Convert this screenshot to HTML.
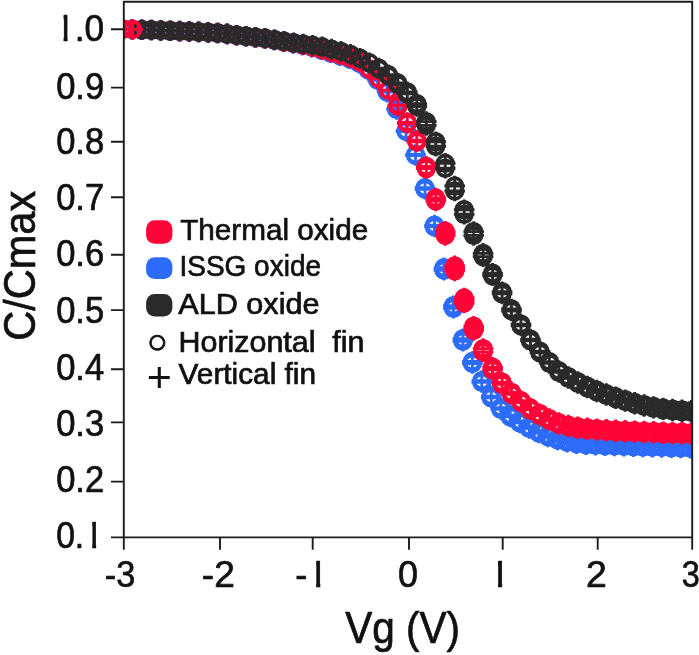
<!DOCTYPE html>
<html lang="en"><head><meta charset="utf-8"><title>C/Cmax vs Vg</title>
<style>
html,body{margin:0;padding:0;background:#fff}
body{width:699px;height:655px;overflow:hidden}
svg{display:block}
text{font-family:"Liberation Sans",sans-serif;fill:#111;stroke:#111;stroke-width:0.7px;stroke-linejoin:round}
.ax{stroke:#1c1c1c;stroke-width:1.9;fill:none}
</style></head><body>
<svg width="699" height="655" viewBox="0 0 699 655">
<defs>
<clipPath id="cp"><rect x="123.8" y="1.8" width="568.4" height="535.6"/></clipPath>
</defs>
<rect width="699" height="655" fill="#fff"/>

<g clip-path="url(#cp)">
<path d="M114.1 29.1a7.85 7.85 0 1 0 15.7 0a7.85 7.85 0 1 0 -15.7 0M123.5 29.4a7.85 7.85 0 1 0 15.7 0a7.85 7.85 0 1 0 -15.7 0M133.0 29.7a7.85 7.85 0 1 0 15.7 0a7.85 7.85 0 1 0 -15.7 0M142.5 30.0a7.85 7.85 0 1 0 15.7 0a7.85 7.85 0 1 0 -15.7 0M151.9 30.4a7.85 7.85 0 1 0 15.7 0a7.85 7.85 0 1 0 -15.7 0M161.4 30.8a7.85 7.85 0 1 0 15.7 0a7.85 7.85 0 1 0 -15.7 0M170.9 31.1a7.85 7.85 0 1 0 15.7 0a7.85 7.85 0 1 0 -15.7 0M180.4 31.5a7.85 7.85 0 1 0 15.7 0a7.85 7.85 0 1 0 -15.7 0M189.8 31.9a7.85 7.85 0 1 0 15.7 0a7.85 7.85 0 1 0 -15.7 0M199.3 32.4a7.85 7.85 0 1 0 15.7 0a7.85 7.85 0 1 0 -15.7 0M208.8 33.0a7.85 7.85 0 1 0 15.7 0a7.85 7.85 0 1 0 -15.7 0M218.2 33.9a7.85 7.85 0 1 0 15.7 0a7.85 7.85 0 1 0 -15.7 0M227.7 35.2a7.85 7.85 0 1 0 15.7 0a7.85 7.85 0 1 0 -15.7 0M237.2 36.3a7.85 7.85 0 1 0 15.7 0a7.85 7.85 0 1 0 -15.7 0M246.7 37.4a7.85 7.85 0 1 0 15.7 0a7.85 7.85 0 1 0 -15.7 0M256.1 38.5a7.85 7.85 0 1 0 15.7 0a7.85 7.85 0 1 0 -15.7 0M265.6 40.0a7.85 7.85 0 1 0 15.7 0a7.85 7.85 0 1 0 -15.7 0M275.1 41.6a7.85 7.85 0 1 0 15.7 0a7.85 7.85 0 1 0 -15.7 0M284.5 43.2a7.85 7.85 0 1 0 15.7 0a7.85 7.85 0 1 0 -15.7 0M294.0 45.0a7.85 7.85 0 1 0 15.7 0a7.85 7.85 0 1 0 -15.7 0M303.5 47.0a7.85 7.85 0 1 0 15.7 0a7.85 7.85 0 1 0 -15.7 0M313.0 49.7a7.85 7.85 0 1 0 15.7 0a7.85 7.85 0 1 0 -15.7 0M322.4 52.8a7.85 7.85 0 1 0 15.7 0a7.85 7.85 0 1 0 -15.7 0M331.9 55.6a7.85 7.85 0 1 0 15.7 0a7.85 7.85 0 1 0 -15.7 0M341.4 58.7a7.85 7.85 0 1 0 15.7 0a7.85 7.85 0 1 0 -15.7 0M350.8 63.0a7.85 7.85 0 1 0 15.7 0a7.85 7.85 0 1 0 -15.7 0M360.3 70.0a7.85 7.85 0 1 0 15.7 0a7.85 7.85 0 1 0 -15.7 0M369.8 80.2a7.85 7.85 0 1 0 15.7 0a7.85 7.85 0 1 0 -15.7 0M379.3 92.1a7.85 7.85 0 1 0 15.7 0a7.85 7.85 0 1 0 -15.7 0M388.7 108.6a7.85 7.85 0 1 0 15.7 0a7.85 7.85 0 1 0 -15.7 0M388.7 109.4a7.85 7.85 0 1 0 15.7 0a7.85 7.85 0 1 0 -15.7 0M398.2 130.5a7.85 7.85 0 1 0 15.7 0a7.85 7.85 0 1 0 -15.7 0M398.2 131.5a7.85 7.85 0 1 0 15.7 0a7.85 7.85 0 1 0 -15.7 0M407.7 154.5a7.85 7.85 0 1 0 15.7 0a7.85 7.85 0 1 0 -15.7 0M407.7 155.5a7.85 7.85 0 1 0 15.7 0a7.85 7.85 0 1 0 -15.7 0M417.1 187.8a7.85 7.85 0 1 0 15.7 0a7.85 7.85 0 1 0 -15.7 0M417.1 189.2a7.85 7.85 0 1 0 15.7 0a7.85 7.85 0 1 0 -15.7 0M426.6 225.1a7.85 7.85 0 1 0 15.7 0a7.85 7.85 0 1 0 -15.7 0M426.6 226.9a7.85 7.85 0 1 0 15.7 0a7.85 7.85 0 1 0 -15.7 0M436.1 267.8a7.85 7.85 0 1 0 15.7 0a7.85 7.85 0 1 0 -15.7 0M436.1 270.2a7.85 7.85 0 1 0 15.7 0a7.85 7.85 0 1 0 -15.7 0M445.6 305.7a7.85 7.85 0 1 0 15.7 0a7.85 7.85 0 1 0 -15.7 0M445.6 308.3a7.85 7.85 0 1 0 15.7 0a7.85 7.85 0 1 0 -15.7 0M455.0 338.8a7.85 7.85 0 1 0 15.7 0a7.85 7.85 0 1 0 -15.7 0M455.0 341.2a7.85 7.85 0 1 0 15.7 0a7.85 7.85 0 1 0 -15.7 0M464.5 361.5a7.85 7.85 0 1 0 15.7 0a7.85 7.85 0 1 0 -15.7 0M464.5 363.5a7.85 7.85 0 1 0 15.7 0a7.85 7.85 0 1 0 -15.7 0M474.0 380.6a7.85 7.85 0 1 0 15.7 0a7.85 7.85 0 1 0 -15.7 0M474.0 382.4a7.85 7.85 0 1 0 15.7 0a7.85 7.85 0 1 0 -15.7 0M483.4 396.1a7.85 7.85 0 1 0 15.7 0a7.85 7.85 0 1 0 -15.7 0M483.4 397.9a7.85 7.85 0 1 0 15.7 0a7.85 7.85 0 1 0 -15.7 0M492.9 407.6a7.85 7.85 0 1 0 15.7 0a7.85 7.85 0 1 0 -15.7 0M492.9 409.4a7.85 7.85 0 1 0 15.7 0a7.85 7.85 0 1 0 -15.7 0M502.4 415.1a7.85 7.85 0 1 0 15.7 0a7.85 7.85 0 1 0 -15.7 0M502.4 416.9a7.85 7.85 0 1 0 15.7 0a7.85 7.85 0 1 0 -15.7 0M511.9 421.1a7.85 7.85 0 1 0 15.7 0a7.85 7.85 0 1 0 -15.7 0M511.9 422.9a7.85 7.85 0 1 0 15.7 0a7.85 7.85 0 1 0 -15.7 0M521.3 426.6a7.85 7.85 0 1 0 15.7 0a7.85 7.85 0 1 0 -15.7 0M521.3 428.4a7.85 7.85 0 1 0 15.7 0a7.85 7.85 0 1 0 -15.7 0M530.8 431.1a7.85 7.85 0 1 0 15.7 0a7.85 7.85 0 1 0 -15.7 0M530.8 432.9a7.85 7.85 0 1 0 15.7 0a7.85 7.85 0 1 0 -15.7 0M540.3 435.1a7.85 7.85 0 1 0 15.7 0a7.85 7.85 0 1 0 -15.7 0M540.3 436.9a7.85 7.85 0 1 0 15.7 0a7.85 7.85 0 1 0 -15.7 0M549.7 438.1a7.85 7.85 0 1 0 15.7 0a7.85 7.85 0 1 0 -15.7 0M549.7 439.9a7.85 7.85 0 1 0 15.7 0a7.85 7.85 0 1 0 -15.7 0M559.2 440.4a7.85 7.85 0 1 0 15.7 0a7.85 7.85 0 1 0 -15.7 0M559.2 442.2a7.85 7.85 0 1 0 15.7 0a7.85 7.85 0 1 0 -15.7 0M568.7 441.8a7.85 7.85 0 1 0 15.7 0a7.85 7.85 0 1 0 -15.7 0M568.7 443.6a7.85 7.85 0 1 0 15.7 0a7.85 7.85 0 1 0 -15.7 0M578.2 442.8a7.85 7.85 0 1 0 15.7 0a7.85 7.85 0 1 0 -15.7 0M578.2 444.6a7.85 7.85 0 1 0 15.7 0a7.85 7.85 0 1 0 -15.7 0M587.6 443.5a7.85 7.85 0 1 0 15.7 0a7.85 7.85 0 1 0 -15.7 0M587.6 445.3a7.85 7.85 0 1 0 15.7 0a7.85 7.85 0 1 0 -15.7 0M597.1 443.8a7.85 7.85 0 1 0 15.7 0a7.85 7.85 0 1 0 -15.7 0M597.1 445.6a7.85 7.85 0 1 0 15.7 0a7.85 7.85 0 1 0 -15.7 0M606.6 444.1a7.85 7.85 0 1 0 15.7 0a7.85 7.85 0 1 0 -15.7 0M606.6 445.9a7.85 7.85 0 1 0 15.7 0a7.85 7.85 0 1 0 -15.7 0M616.0 444.4a7.85 7.85 0 1 0 15.7 0a7.85 7.85 0 1 0 -15.7 0M616.0 446.2a7.85 7.85 0 1 0 15.7 0a7.85 7.85 0 1 0 -15.7 0M625.5 444.8a7.85 7.85 0 1 0 15.7 0a7.85 7.85 0 1 0 -15.7 0M625.5 446.6a7.85 7.85 0 1 0 15.7 0a7.85 7.85 0 1 0 -15.7 0M635.0 445.1a7.85 7.85 0 1 0 15.7 0a7.85 7.85 0 1 0 -15.7 0M635.0 446.9a7.85 7.85 0 1 0 15.7 0a7.85 7.85 0 1 0 -15.7 0M644.5 445.4a7.85 7.85 0 1 0 15.7 0a7.85 7.85 0 1 0 -15.7 0M644.5 447.2a7.85 7.85 0 1 0 15.7 0a7.85 7.85 0 1 0 -15.7 0M653.9 445.6a7.85 7.85 0 1 0 15.7 0a7.85 7.85 0 1 0 -15.7 0M653.9 447.4a7.85 7.85 0 1 0 15.7 0a7.85 7.85 0 1 0 -15.7 0M663.4 445.9a7.85 7.85 0 1 0 15.7 0a7.85 7.85 0 1 0 -15.7 0M663.4 447.7a7.85 7.85 0 1 0 15.7 0a7.85 7.85 0 1 0 -15.7 0M672.9 446.1a7.85 7.85 0 1 0 15.7 0a7.85 7.85 0 1 0 -15.7 0M672.9 447.9a7.85 7.85 0 1 0 15.7 0a7.85 7.85 0 1 0 -15.7 0M682.4 446.3a7.85 7.85 0 1 0 15.7 0a7.85 7.85 0 1 0 -15.7 0M682.4 448.1a7.85 7.85 0 1 0 15.7 0a7.85 7.85 0 1 0 -15.7 0" fill="none" stroke="#2d6cf8" stroke-width="3.7"/>
<path d="M111.6 29.1h20.6M121.9 18.8v20.6M121.1 29.4h20.6M131.4 19.1v20.6M130.5 29.7h20.6M140.8 19.4v20.6M140.0 30.0h20.6M150.3 19.7v20.6M149.5 30.4h20.6M159.8 20.1v20.6M159.0 30.8h20.6M169.3 20.4v20.6M168.4 31.1h20.6M178.7 20.8v20.6M177.9 31.5h20.6M188.2 21.2v20.6M187.4 31.9h20.6M197.7 21.6v20.6M196.8 32.4h20.6M207.1 22.1v20.6M206.3 33.0h20.6M216.6 22.7v20.6M215.8 33.9h20.6M226.1 23.6v20.6M225.3 35.2h20.6M235.6 24.9v20.6M234.7 36.3h20.6M245.0 26.0v20.6M244.2 37.4h20.6M254.5 27.1v20.6M253.7 38.5h20.6M264.0 28.2v20.6M263.1 40.0h20.6M273.4 29.7v20.6M272.6 41.6h20.6M282.9 31.3v20.6M282.1 43.2h20.6M292.4 33.0v20.6M291.6 45.0h20.6M301.9 34.7v20.6M301.0 47.0h20.6M311.3 36.8v20.6M310.5 49.7h20.6M320.8 39.4v20.6M320.0 52.8h20.6M330.3 42.5v20.6M329.4 55.6h20.6M339.7 45.3v20.6M338.9 58.7h20.6M349.2 48.4v20.6M348.4 63.0h20.6M358.7 52.7v20.6M357.9 70.0h20.6M368.2 59.7v20.6M367.3 80.2h20.6M377.6 69.9v20.6M376.8 92.1h20.6M387.1 81.8v20.6M386.3 108.6h20.6M396.6 98.3v20.6M386.3 109.4h20.6M396.6 99.1v20.6M395.7 130.5h20.6M406.0 120.2v20.6M395.7 131.5h20.6M406.0 121.2v20.6M405.2 154.5h20.6M415.5 144.2v20.6M405.2 155.5h20.6M415.5 145.2v20.6M414.7 187.8h20.6M425.0 177.5v20.6M414.7 189.2h20.6M425.0 178.9v20.6M424.2 225.1h20.6M434.5 214.8v20.6M424.2 226.9h20.6M434.5 216.6v20.6M433.6 267.8h20.6M443.9 257.5v20.6M433.6 270.2h20.6M443.9 259.9v20.6M443.1 305.7h20.6M453.4 295.4v20.6M443.1 308.3h20.6M453.4 298.0v20.6M452.6 338.8h20.6M462.9 328.5v20.6M452.6 341.2h20.6M462.9 330.9v20.6M462.1 361.5h20.6M472.4 351.2v20.6M462.1 363.5h20.6M472.4 353.2v20.6M471.5 380.6h20.6M481.8 370.3v20.6M471.5 382.4h20.6M481.8 372.1v20.6M481.0 396.1h20.6M491.3 385.8v20.6M481.0 397.9h20.6M491.3 387.6v20.6M490.5 407.6h20.6M500.8 397.3v20.6M490.5 409.4h20.6M500.8 399.1v20.6M499.9 415.1h20.6M510.2 404.8v20.6M499.9 416.9h20.6M510.2 406.6v20.6M509.4 421.1h20.6M519.7 410.8v20.6M509.4 422.9h20.6M519.7 412.6v20.6M518.9 426.6h20.6M529.2 416.3v20.6M518.9 428.4h20.6M529.2 418.1v20.6M528.4 431.1h20.6M538.7 420.8v20.6M528.4 432.9h20.6M538.7 422.6v20.6M537.8 435.1h20.6M548.1 424.8v20.6M537.8 436.9h20.6M548.1 426.6v20.6M547.3 438.1h20.6M557.6 427.8v20.6M547.3 439.9h20.6M557.6 429.6v20.6M556.8 440.4h20.6M567.1 430.1v20.6M556.8 442.2h20.6M567.1 431.9v20.6M566.2 441.8h20.6M576.5 431.5v20.6M566.2 443.6h20.6M576.5 433.3v20.6M575.7 442.8h20.6M586.0 432.5v20.6M575.7 444.6h20.6M586.0 434.3v20.6M585.2 443.5h20.6M595.5 433.2v20.6M585.2 445.3h20.6M595.5 435.0v20.6M594.7 443.8h20.6M605.0 433.5v20.6M594.7 445.6h20.6M605.0 435.3v20.6M604.1 444.1h20.6M614.4 433.8v20.6M604.1 445.9h20.6M614.4 435.6v20.6M613.6 444.4h20.6M623.9 434.1v20.6M613.6 446.2h20.6M623.9 435.9v20.6M623.1 444.8h20.6M633.4 434.5v20.6M623.1 446.6h20.6M633.4 436.3v20.6M632.5 445.1h20.6M642.8 434.8v20.6M632.5 446.9h20.6M642.8 436.6v20.6M642.0 445.4h20.6M652.3 435.1v20.6M642.0 447.2h20.6M652.3 436.9v20.6M651.5 445.6h20.6M661.8 435.3v20.6M651.5 447.4h20.6M661.8 437.1v20.6M661.0 445.9h20.6M671.3 435.6v20.6M661.0 447.7h20.6M671.3 437.4v20.6M670.4 446.1h20.6M680.7 435.8v20.6M670.4 447.9h20.6M680.7 437.6v20.6M679.9 446.3h20.6M690.2 436.0v20.6M679.9 448.1h20.6M690.2 437.8v20.6" fill="none" stroke="#2d6cf8" stroke-width="2.9"/>
<path d="M115.4 29.1a7.85 7.85 0 1 0 15.7 0a7.85 7.85 0 1 0 -15.7 0M124.8 29.4a7.85 7.85 0 1 0 15.7 0a7.85 7.85 0 1 0 -15.7 0M134.3 29.7a7.85 7.85 0 1 0 15.7 0a7.85 7.85 0 1 0 -15.7 0M143.8 30.0a7.85 7.85 0 1 0 15.7 0a7.85 7.85 0 1 0 -15.7 0M153.2 30.4a7.85 7.85 0 1 0 15.7 0a7.85 7.85 0 1 0 -15.7 0M162.7 30.8a7.85 7.85 0 1 0 15.7 0a7.85 7.85 0 1 0 -15.7 0M172.2 31.1a7.85 7.85 0 1 0 15.7 0a7.85 7.85 0 1 0 -15.7 0M181.7 31.5a7.85 7.85 0 1 0 15.7 0a7.85 7.85 0 1 0 -15.7 0M191.1 31.9a7.85 7.85 0 1 0 15.7 0a7.85 7.85 0 1 0 -15.7 0M200.6 32.4a7.85 7.85 0 1 0 15.7 0a7.85 7.85 0 1 0 -15.7 0M210.1 33.0a7.85 7.85 0 1 0 15.7 0a7.85 7.85 0 1 0 -15.7 0M219.5 33.9a7.85 7.85 0 1 0 15.7 0a7.85 7.85 0 1 0 -15.7 0M229.0 35.2a7.85 7.85 0 1 0 15.7 0a7.85 7.85 0 1 0 -15.7 0M238.5 36.3a7.85 7.85 0 1 0 15.7 0a7.85 7.85 0 1 0 -15.7 0M248.0 37.4a7.85 7.85 0 1 0 15.7 0a7.85 7.85 0 1 0 -15.7 0M257.4 38.5a7.85 7.85 0 1 0 15.7 0a7.85 7.85 0 1 0 -15.7 0M266.9 40.0a7.85 7.85 0 1 0 15.7 0a7.85 7.85 0 1 0 -15.7 0M276.4 41.6a7.85 7.85 0 1 0 15.7 0a7.85 7.85 0 1 0 -15.7 0M285.8 43.2a7.85 7.85 0 1 0 15.7 0a7.85 7.85 0 1 0 -15.7 0M295.3 45.0a7.85 7.85 0 1 0 15.7 0a7.85 7.85 0 1 0 -15.7 0M304.8 47.0a7.85 7.85 0 1 0 15.7 0a7.85 7.85 0 1 0 -15.7 0M314.3 49.5a7.85 7.85 0 1 0 15.7 0a7.85 7.85 0 1 0 -15.7 0M323.7 52.2a7.85 7.85 0 1 0 15.7 0a7.85 7.85 0 1 0 -15.7 0M333.2 54.8a7.85 7.85 0 1 0 15.7 0a7.85 7.85 0 1 0 -15.7 0M342.7 57.7a7.85 7.85 0 1 0 15.7 0a7.85 7.85 0 1 0 -15.7 0M352.1 62.0a7.85 7.85 0 1 0 15.7 0a7.85 7.85 0 1 0 -15.7 0M361.6 69.0a7.85 7.85 0 1 0 15.7 0a7.85 7.85 0 1 0 -15.7 0M371.1 78.7a7.85 7.85 0 1 0 15.7 0a7.85 7.85 0 1 0 -15.7 0M380.6 90.1a7.85 7.85 0 1 0 15.7 0a7.85 7.85 0 1 0 -15.7 0M390.0 105.1a7.85 7.85 0 1 0 15.7 0a7.85 7.85 0 1 0 -15.7 0M390.0 105.9a7.85 7.85 0 1 0 15.7 0a7.85 7.85 0 1 0 -15.7 0M399.5 122.5a7.85 7.85 0 1 0 15.7 0a7.85 7.85 0 1 0 -15.7 0M399.5 123.5a7.85 7.85 0 1 0 15.7 0a7.85 7.85 0 1 0 -15.7 0M409.0 140.3a7.85 7.85 0 1 0 15.7 0a7.85 7.85 0 1 0 -15.7 0M409.0 141.7a7.85 7.85 0 1 0 15.7 0a7.85 7.85 0 1 0 -15.7 0M418.4 166.4a7.85 7.85 0 1 0 15.7 0a7.85 7.85 0 1 0 -15.7 0M418.4 168.6a7.85 7.85 0 1 0 15.7 0a7.85 7.85 0 1 0 -15.7 0M427.9 198.0a7.85 7.85 0 1 0 15.7 0a7.85 7.85 0 1 0 -15.7 0M427.9 201.0a7.85 7.85 0 1 0 15.7 0a7.85 7.85 0 1 0 -15.7 0M437.4 231.3a7.85 7.85 0 1 0 15.7 0a7.85 7.85 0 1 0 -15.7 0M437.4 235.5a7.85 7.85 0 1 0 15.7 0a7.85 7.85 0 1 0 -15.7 0M437.4 233.4a7.85 7.85 0 1 0 15.7 0a7.85 7.85 0 1 0 -15.7 0M446.9 265.9a7.85 7.85 0 1 0 15.7 0a7.85 7.85 0 1 0 -15.7 0M446.9 270.9a7.85 7.85 0 1 0 15.7 0a7.85 7.85 0 1 0 -15.7 0M446.9 268.4a7.85 7.85 0 1 0 15.7 0a7.85 7.85 0 1 0 -15.7 0M456.3 298.0a7.85 7.85 0 1 0 15.7 0a7.85 7.85 0 1 0 -15.7 0M456.3 303.0a7.85 7.85 0 1 0 15.7 0a7.85 7.85 0 1 0 -15.7 0M456.3 300.5a7.85 7.85 0 1 0 15.7 0a7.85 7.85 0 1 0 -15.7 0M465.8 326.2a7.85 7.85 0 1 0 15.7 0a7.85 7.85 0 1 0 -15.7 0M465.8 330.4a7.85 7.85 0 1 0 15.7 0a7.85 7.85 0 1 0 -15.7 0M465.8 328.3a7.85 7.85 0 1 0 15.7 0a7.85 7.85 0 1 0 -15.7 0M475.3 348.6a7.85 7.85 0 1 0 15.7 0a7.85 7.85 0 1 0 -15.7 0M475.3 352.0a7.85 7.85 0 1 0 15.7 0a7.85 7.85 0 1 0 -15.7 0M484.7 367.3a7.85 7.85 0 1 0 15.7 0a7.85 7.85 0 1 0 -15.7 0M484.7 369.9a7.85 7.85 0 1 0 15.7 0a7.85 7.85 0 1 0 -15.7 0M494.2 382.2a7.85 7.85 0 1 0 15.7 0a7.85 7.85 0 1 0 -15.7 0M494.2 384.4a7.85 7.85 0 1 0 15.7 0a7.85 7.85 0 1 0 -15.7 0M503.7 392.4a7.85 7.85 0 1 0 15.7 0a7.85 7.85 0 1 0 -15.7 0M503.7 394.4a7.85 7.85 0 1 0 15.7 0a7.85 7.85 0 1 0 -15.7 0M513.2 400.7a7.85 7.85 0 1 0 15.7 0a7.85 7.85 0 1 0 -15.7 0M513.2 402.5a7.85 7.85 0 1 0 15.7 0a7.85 7.85 0 1 0 -15.7 0M522.6 408.0a7.85 7.85 0 1 0 15.7 0a7.85 7.85 0 1 0 -15.7 0M522.6 409.8a7.85 7.85 0 1 0 15.7 0a7.85 7.85 0 1 0 -15.7 0M532.1 413.7a7.85 7.85 0 1 0 15.7 0a7.85 7.85 0 1 0 -15.7 0M532.1 415.5a7.85 7.85 0 1 0 15.7 0a7.85 7.85 0 1 0 -15.7 0M541.6 418.6a7.85 7.85 0 1 0 15.7 0a7.85 7.85 0 1 0 -15.7 0M541.6 420.4a7.85 7.85 0 1 0 15.7 0a7.85 7.85 0 1 0 -15.7 0M551.0 422.6a7.85 7.85 0 1 0 15.7 0a7.85 7.85 0 1 0 -15.7 0M551.0 424.4a7.85 7.85 0 1 0 15.7 0a7.85 7.85 0 1 0 -15.7 0M560.5 425.1a7.85 7.85 0 1 0 15.7 0a7.85 7.85 0 1 0 -15.7 0M560.5 426.9a7.85 7.85 0 1 0 15.7 0a7.85 7.85 0 1 0 -15.7 0M570.0 426.8a7.85 7.85 0 1 0 15.7 0a7.85 7.85 0 1 0 -15.7 0M570.0 428.6a7.85 7.85 0 1 0 15.7 0a7.85 7.85 0 1 0 -15.7 0M579.5 427.9a7.85 7.85 0 1 0 15.7 0a7.85 7.85 0 1 0 -15.7 0M579.5 429.7a7.85 7.85 0 1 0 15.7 0a7.85 7.85 0 1 0 -15.7 0M588.9 428.7a7.85 7.85 0 1 0 15.7 0a7.85 7.85 0 1 0 -15.7 0M588.9 430.5a7.85 7.85 0 1 0 15.7 0a7.85 7.85 0 1 0 -15.7 0M598.4 429.4a7.85 7.85 0 1 0 15.7 0a7.85 7.85 0 1 0 -15.7 0M598.4 431.2a7.85 7.85 0 1 0 15.7 0a7.85 7.85 0 1 0 -15.7 0M607.9 429.9a7.85 7.85 0 1 0 15.7 0a7.85 7.85 0 1 0 -15.7 0M607.9 431.7a7.85 7.85 0 1 0 15.7 0a7.85 7.85 0 1 0 -15.7 0M617.3 430.4a7.85 7.85 0 1 0 15.7 0a7.85 7.85 0 1 0 -15.7 0M617.3 432.2a7.85 7.85 0 1 0 15.7 0a7.85 7.85 0 1 0 -15.7 0M626.8 430.7a7.85 7.85 0 1 0 15.7 0a7.85 7.85 0 1 0 -15.7 0M626.8 432.5a7.85 7.85 0 1 0 15.7 0a7.85 7.85 0 1 0 -15.7 0M636.3 431.1a7.85 7.85 0 1 0 15.7 0a7.85 7.85 0 1 0 -15.7 0M636.3 432.9a7.85 7.85 0 1 0 15.7 0a7.85 7.85 0 1 0 -15.7 0M645.8 431.4a7.85 7.85 0 1 0 15.7 0a7.85 7.85 0 1 0 -15.7 0M645.8 433.2a7.85 7.85 0 1 0 15.7 0a7.85 7.85 0 1 0 -15.7 0M655.2 431.8a7.85 7.85 0 1 0 15.7 0a7.85 7.85 0 1 0 -15.7 0M655.2 433.6a7.85 7.85 0 1 0 15.7 0a7.85 7.85 0 1 0 -15.7 0M664.7 432.1a7.85 7.85 0 1 0 15.7 0a7.85 7.85 0 1 0 -15.7 0M664.7 433.9a7.85 7.85 0 1 0 15.7 0a7.85 7.85 0 1 0 -15.7 0M674.2 432.3a7.85 7.85 0 1 0 15.7 0a7.85 7.85 0 1 0 -15.7 0M674.2 434.1a7.85 7.85 0 1 0 15.7 0a7.85 7.85 0 1 0 -15.7 0M683.6 432.6a7.85 7.85 0 1 0 15.7 0a7.85 7.85 0 1 0 -15.7 0M683.6 434.4a7.85 7.85 0 1 0 15.7 0a7.85 7.85 0 1 0 -15.7 0" fill="none" stroke="#ff0537" stroke-width="3.7"/>
<path d="M112.9 29.1h20.6M123.2 18.8v20.6M122.4 29.4h20.6M132.7 19.1v20.6M131.8 29.7h20.6M142.1 19.4v20.6M141.3 30.0h20.6M151.6 19.7v20.6M150.8 30.4h20.6M161.1 20.1v20.6M160.3 30.8h20.6M170.6 20.4v20.6M169.7 31.1h20.6M180.0 20.8v20.6M179.2 31.5h20.6M189.5 21.2v20.6M188.7 31.9h20.6M199.0 21.6v20.6M198.1 32.4h20.6M208.4 22.1v20.6M207.6 33.0h20.6M217.9 22.7v20.6M217.1 33.9h20.6M227.4 23.6v20.6M226.6 35.2h20.6M236.9 24.9v20.6M236.0 36.3h20.6M246.3 26.0v20.6M245.5 37.4h20.6M255.8 27.1v20.6M255.0 38.5h20.6M265.3 28.2v20.6M264.4 40.0h20.6M274.7 29.7v20.6M273.9 41.6h20.6M284.2 31.3v20.6M283.4 43.2h20.6M293.7 32.9v20.6M292.9 45.0h20.6M303.2 34.7v20.6M302.3 47.0h20.6M312.6 36.7v20.6M311.8 49.5h20.6M322.1 39.2v20.6M321.3 52.2h20.6M331.6 41.9v20.6M330.7 54.8h20.6M341.0 44.5v20.6M340.2 57.7h20.6M350.5 47.4v20.6M349.7 62.0h20.6M360.0 51.7v20.6M359.2 69.0h20.6M369.5 58.7v20.6M368.6 78.7h20.6M378.9 68.4v20.6M378.1 90.1h20.6M388.4 79.8v20.6M387.6 105.1h20.6M397.9 94.8v20.6M387.6 105.9h20.6M397.9 95.6v20.6M397.0 122.5h20.6M407.3 112.2v20.6M397.0 123.5h20.6M407.3 113.2v20.6M406.5 140.3h20.6M416.8 130.0v20.6M406.5 141.7h20.6M416.8 131.4v20.6M416.0 166.4h20.6M426.3 156.1v20.6M416.0 168.6h20.6M426.3 158.3v20.6M425.5 198.0h20.6M435.8 187.7v20.6M425.5 201.0h20.6M435.8 190.7v20.6M434.9 231.3h20.6M445.2 221.0v20.6M434.9 235.5h20.6M445.2 225.2v20.6M434.9 233.4h20.6M445.2 223.1v20.6M444.4 265.9h20.6M454.7 255.6v20.6M444.4 270.9h20.6M454.7 260.6v20.6M444.4 268.4h20.6M454.7 258.1v20.6M453.9 298.0h20.6M464.2 287.7v20.6M453.9 303.0h20.6M464.2 292.7v20.6M453.9 300.5h20.6M464.2 290.2v20.6M463.4 326.2h20.6M473.7 315.9v20.6M463.4 330.4h20.6M473.7 320.1v20.6M463.4 328.3h20.6M473.7 318.0v20.6M472.8 348.6h20.6M483.1 338.3v20.6M472.8 352.0h20.6M483.1 341.7v20.6M482.3 367.3h20.6M492.6 357.0v20.6M482.3 369.9h20.6M492.6 359.6v20.6M491.8 382.2h20.6M502.1 371.9v20.6M491.8 384.4h20.6M502.1 374.1v20.6M501.2 392.4h20.6M511.5 382.1v20.6M501.2 394.4h20.6M511.5 384.1v20.6M510.7 400.7h20.6M521.0 390.4v20.6M510.7 402.5h20.6M521.0 392.2v20.6M520.2 408.0h20.6M530.5 397.7v20.6M520.2 409.8h20.6M530.5 399.5v20.6M529.7 413.7h20.6M540.0 403.4v20.6M529.7 415.5h20.6M540.0 405.2v20.6M539.1 418.6h20.6M549.4 408.3v20.6M539.1 420.4h20.6M549.4 410.1v20.6M548.6 422.6h20.6M558.9 412.3v20.6M548.6 424.4h20.6M558.9 414.1v20.6M558.1 425.1h20.6M568.4 414.8v20.6M558.1 426.9h20.6M568.4 416.6v20.6M567.5 426.8h20.6M577.8 416.5v20.6M567.5 428.6h20.6M577.8 418.3v20.6M577.0 427.9h20.6M587.3 417.6v20.6M577.0 429.7h20.6M587.3 419.4v20.6M586.5 428.7h20.6M596.8 418.4v20.6M586.5 430.5h20.6M596.8 420.2v20.6M596.0 429.4h20.6M606.3 419.1v20.6M596.0 431.2h20.6M606.3 420.9v20.6M605.4 429.9h20.6M615.7 419.6v20.6M605.4 431.7h20.6M615.7 421.4v20.6M614.9 430.4h20.6M625.2 420.1v20.6M614.9 432.2h20.6M625.2 421.9v20.6M624.4 430.7h20.6M634.7 420.4v20.6M624.4 432.5h20.6M634.7 422.2v20.6M633.8 431.1h20.6M644.1 420.8v20.6M633.8 432.9h20.6M644.1 422.6v20.6M643.3 431.4h20.6M653.6 421.1v20.6M643.3 433.2h20.6M653.6 422.9v20.6M652.8 431.8h20.6M663.1 421.5v20.6M652.8 433.6h20.6M663.1 423.3v20.6M662.3 432.1h20.6M672.6 421.8v20.6M662.3 433.9h20.6M672.6 423.6v20.6M671.7 432.3h20.6M682.0 422.0v20.6M671.7 434.1h20.6M682.0 423.8v20.6M681.2 432.6h20.6M691.5 422.3v20.6M681.2 434.4h20.6M691.5 424.1v20.6" fill="none" stroke="#ff0537" stroke-width="2.9"/>
<path d="M134.3 29.7a7.85 7.85 0 1 0 15.7 0a7.85 7.85 0 1 0 -15.7 0M143.8 30.0a7.85 7.85 0 1 0 15.7 0a7.85 7.85 0 1 0 -15.7 0M153.2 30.4a7.85 7.85 0 1 0 15.7 0a7.85 7.85 0 1 0 -15.7 0M162.7 30.8a7.85 7.85 0 1 0 15.7 0a7.85 7.85 0 1 0 -15.7 0M172.2 31.1a7.85 7.85 0 1 0 15.7 0a7.85 7.85 0 1 0 -15.7 0M181.7 31.5a7.85 7.85 0 1 0 15.7 0a7.85 7.85 0 1 0 -15.7 0M191.1 31.9a7.85 7.85 0 1 0 15.7 0a7.85 7.85 0 1 0 -15.7 0M200.6 32.4a7.85 7.85 0 1 0 15.7 0a7.85 7.85 0 1 0 -15.7 0M210.1 33.0a7.85 7.85 0 1 0 15.7 0a7.85 7.85 0 1 0 -15.7 0M219.5 33.9a7.85 7.85 0 1 0 15.7 0a7.85 7.85 0 1 0 -15.7 0M229.0 35.2a7.85 7.85 0 1 0 15.7 0a7.85 7.85 0 1 0 -15.7 0M238.5 36.3a7.85 7.85 0 1 0 15.7 0a7.85 7.85 0 1 0 -15.7 0M248.0 37.3a7.85 7.85 0 1 0 15.7 0a7.85 7.85 0 1 0 -15.7 0M257.4 38.3a7.85 7.85 0 1 0 15.7 0a7.85 7.85 0 1 0 -15.7 0M266.9 39.7a7.85 7.85 0 1 0 15.7 0a7.85 7.85 0 1 0 -15.7 0M276.4 41.3a7.85 7.85 0 1 0 15.7 0a7.85 7.85 0 1 0 -15.7 0M285.8 42.7a7.85 7.85 0 1 0 15.7 0a7.85 7.85 0 1 0 -15.7 0M295.3 44.0a7.85 7.85 0 1 0 15.7 0a7.85 7.85 0 1 0 -15.7 0M304.8 45.2a7.85 7.85 0 1 0 15.7 0a7.85 7.85 0 1 0 -15.7 0M314.3 46.8a7.85 7.85 0 1 0 15.7 0a7.85 7.85 0 1 0 -15.7 0M323.7 49.1a7.85 7.85 0 1 0 15.7 0a7.85 7.85 0 1 0 -15.7 0M333.2 51.4a7.85 7.85 0 1 0 15.7 0a7.85 7.85 0 1 0 -15.7 0M342.7 54.4a7.85 7.85 0 1 0 15.7 0a7.85 7.85 0 1 0 -15.7 0M352.1 58.2a7.85 7.85 0 1 0 15.7 0a7.85 7.85 0 1 0 -15.7 0M361.6 62.8a7.85 7.85 0 1 0 15.7 0a7.85 7.85 0 1 0 -15.7 0M371.1 68.1a7.85 7.85 0 1 0 15.7 0a7.85 7.85 0 1 0 -15.7 0M371.1 68.9a7.85 7.85 0 1 0 15.7 0a7.85 7.85 0 1 0 -15.7 0M380.6 74.8a7.85 7.85 0 1 0 15.7 0a7.85 7.85 0 1 0 -15.7 0M380.6 75.8a7.85 7.85 0 1 0 15.7 0a7.85 7.85 0 1 0 -15.7 0M390.0 83.0a7.85 7.85 0 1 0 15.7 0a7.85 7.85 0 1 0 -15.7 0M390.0 84.4a7.85 7.85 0 1 0 15.7 0a7.85 7.85 0 1 0 -15.7 0M399.5 91.9a7.85 7.85 0 1 0 15.7 0a7.85 7.85 0 1 0 -15.7 0M399.5 93.9a7.85 7.85 0 1 0 15.7 0a7.85 7.85 0 1 0 -15.7 0M409.0 103.7a7.85 7.85 0 1 0 15.7 0a7.85 7.85 0 1 0 -15.7 0M409.0 106.5a7.85 7.85 0 1 0 15.7 0a7.85 7.85 0 1 0 -15.7 0M418.4 121.6a7.85 7.85 0 1 0 15.7 0a7.85 7.85 0 1 0 -15.7 0M418.4 125.4a7.85 7.85 0 1 0 15.7 0a7.85 7.85 0 1 0 -15.7 0M427.9 141.7a7.85 7.85 0 1 0 15.7 0a7.85 7.85 0 1 0 -15.7 0M427.9 146.3a7.85 7.85 0 1 0 15.7 0a7.85 7.85 0 1 0 -15.7 0M437.4 163.3a7.85 7.85 0 1 0 15.7 0a7.85 7.85 0 1 0 -15.7 0M437.4 168.3a7.85 7.85 0 1 0 15.7 0a7.85 7.85 0 1 0 -15.7 0M446.9 186.0a7.85 7.85 0 1 0 15.7 0a7.85 7.85 0 1 0 -15.7 0M446.9 191.0a7.85 7.85 0 1 0 15.7 0a7.85 7.85 0 1 0 -15.7 0M456.3 209.7a7.85 7.85 0 1 0 15.7 0a7.85 7.85 0 1 0 -15.7 0M456.3 214.3a7.85 7.85 0 1 0 15.7 0a7.85 7.85 0 1 0 -15.7 0M465.8 231.6a7.85 7.85 0 1 0 15.7 0a7.85 7.85 0 1 0 -15.7 0M465.8 235.4a7.85 7.85 0 1 0 15.7 0a7.85 7.85 0 1 0 -15.7 0M475.3 253.4a7.85 7.85 0 1 0 15.7 0a7.85 7.85 0 1 0 -15.7 0M475.3 256.6a7.85 7.85 0 1 0 15.7 0a7.85 7.85 0 1 0 -15.7 0M484.7 273.2a7.85 7.85 0 1 0 15.7 0a7.85 7.85 0 1 0 -15.7 0M484.7 275.8a7.85 7.85 0 1 0 15.7 0a7.85 7.85 0 1 0 -15.7 0M494.2 291.7a7.85 7.85 0 1 0 15.7 0a7.85 7.85 0 1 0 -15.7 0M494.2 293.9a7.85 7.85 0 1 0 15.7 0a7.85 7.85 0 1 0 -15.7 0M503.7 309.0a7.85 7.85 0 1 0 15.7 0a7.85 7.85 0 1 0 -15.7 0M503.7 311.0a7.85 7.85 0 1 0 15.7 0a7.85 7.85 0 1 0 -15.7 0M513.2 324.1a7.85 7.85 0 1 0 15.7 0a7.85 7.85 0 1 0 -15.7 0M513.2 325.9a7.85 7.85 0 1 0 15.7 0a7.85 7.85 0 1 0 -15.7 0M522.6 339.1a7.85 7.85 0 1 0 15.7 0a7.85 7.85 0 1 0 -15.7 0M522.6 340.9a7.85 7.85 0 1 0 15.7 0a7.85 7.85 0 1 0 -15.7 0M532.1 351.1a7.85 7.85 0 1 0 15.7 0a7.85 7.85 0 1 0 -15.7 0M532.1 352.9a7.85 7.85 0 1 0 15.7 0a7.85 7.85 0 1 0 -15.7 0M541.6 361.6a7.85 7.85 0 1 0 15.7 0a7.85 7.85 0 1 0 -15.7 0M541.6 363.4a7.85 7.85 0 1 0 15.7 0a7.85 7.85 0 1 0 -15.7 0M551.0 370.6a7.85 7.85 0 1 0 15.7 0a7.85 7.85 0 1 0 -15.7 0M551.0 372.4a7.85 7.85 0 1 0 15.7 0a7.85 7.85 0 1 0 -15.7 0M560.5 376.6a7.85 7.85 0 1 0 15.7 0a7.85 7.85 0 1 0 -15.7 0M560.5 378.4a7.85 7.85 0 1 0 15.7 0a7.85 7.85 0 1 0 -15.7 0M570.0 381.6a7.85 7.85 0 1 0 15.7 0a7.85 7.85 0 1 0 -15.7 0M570.0 383.4a7.85 7.85 0 1 0 15.7 0a7.85 7.85 0 1 0 -15.7 0M579.5 386.1a7.85 7.85 0 1 0 15.7 0a7.85 7.85 0 1 0 -15.7 0M579.5 387.9a7.85 7.85 0 1 0 15.7 0a7.85 7.85 0 1 0 -15.7 0M588.9 390.1a7.85 7.85 0 1 0 15.7 0a7.85 7.85 0 1 0 -15.7 0M588.9 391.9a7.85 7.85 0 1 0 15.7 0a7.85 7.85 0 1 0 -15.7 0M598.4 393.6a7.85 7.85 0 1 0 15.7 0a7.85 7.85 0 1 0 -15.7 0M598.4 395.4a7.85 7.85 0 1 0 15.7 0a7.85 7.85 0 1 0 -15.7 0M607.9 396.8a7.85 7.85 0 1 0 15.7 0a7.85 7.85 0 1 0 -15.7 0M607.9 398.6a7.85 7.85 0 1 0 15.7 0a7.85 7.85 0 1 0 -15.7 0M617.3 399.7a7.85 7.85 0 1 0 15.7 0a7.85 7.85 0 1 0 -15.7 0M617.3 401.5a7.85 7.85 0 1 0 15.7 0a7.85 7.85 0 1 0 -15.7 0M626.8 402.4a7.85 7.85 0 1 0 15.7 0a7.85 7.85 0 1 0 -15.7 0M626.8 404.2a7.85 7.85 0 1 0 15.7 0a7.85 7.85 0 1 0 -15.7 0M636.3 404.6a7.85 7.85 0 1 0 15.7 0a7.85 7.85 0 1 0 -15.7 0M636.3 406.4a7.85 7.85 0 1 0 15.7 0a7.85 7.85 0 1 0 -15.7 0M645.8 406.5a7.85 7.85 0 1 0 15.7 0a7.85 7.85 0 1 0 -15.7 0M645.8 408.3a7.85 7.85 0 1 0 15.7 0a7.85 7.85 0 1 0 -15.7 0M655.2 408.0a7.85 7.85 0 1 0 15.7 0a7.85 7.85 0 1 0 -15.7 0M655.2 409.8a7.85 7.85 0 1 0 15.7 0a7.85 7.85 0 1 0 -15.7 0M664.7 409.1a7.85 7.85 0 1 0 15.7 0a7.85 7.85 0 1 0 -15.7 0M664.7 410.9a7.85 7.85 0 1 0 15.7 0a7.85 7.85 0 1 0 -15.7 0M674.2 409.9a7.85 7.85 0 1 0 15.7 0a7.85 7.85 0 1 0 -15.7 0M674.2 411.7a7.85 7.85 0 1 0 15.7 0a7.85 7.85 0 1 0 -15.7 0M683.6 410.4a7.85 7.85 0 1 0 15.7 0a7.85 7.85 0 1 0 -15.7 0M683.6 412.2a7.85 7.85 0 1 0 15.7 0a7.85 7.85 0 1 0 -15.7 0" fill="none" stroke="#2a2a2a" stroke-width="3.7"/>
<path d="M131.8 29.7h20.6M142.1 19.4v20.6M141.3 30.0h20.6M151.6 19.7v20.6M150.8 30.4h20.6M161.1 20.1v20.6M160.3 30.8h20.6M170.6 20.4v20.6M169.7 31.1h20.6M180.0 20.8v20.6M179.2 31.5h20.6M189.5 21.2v20.6M188.7 31.9h20.6M199.0 21.6v20.6M198.1 32.4h20.6M208.4 22.1v20.6M207.6 33.0h20.6M217.9 22.7v20.6M217.1 33.9h20.6M227.4 23.6v20.6M226.6 35.2h20.6M236.9 24.9v20.6M236.0 36.3h20.6M246.3 26.0v20.6M245.5 37.3h20.6M255.8 27.0v20.6M255.0 38.3h20.6M265.3 28.0v20.6M264.4 39.7h20.6M274.7 29.4v20.6M273.9 41.3h20.6M284.2 31.0v20.6M283.4 42.7h20.6M293.7 32.4v20.6M292.9 44.0h20.6M303.2 33.7v20.6M302.3 45.2h20.6M312.6 34.9v20.6M311.8 46.8h20.6M322.1 36.5v20.6M321.3 49.1h20.6M331.6 38.8v20.6M330.7 51.4h20.6M341.0 41.1v20.6M340.2 54.4h20.6M350.5 44.1v20.6M349.7 58.2h20.6M360.0 47.9v20.6M359.2 62.8h20.6M369.5 52.5v20.6M368.6 68.1h20.6M378.9 57.8v20.6M368.6 68.9h20.6M378.9 58.6v20.6M378.1 74.8h20.6M388.4 64.5v20.6M378.1 75.8h20.6M388.4 65.5v20.6M387.6 83.0h20.6M397.9 72.7v20.6M387.6 84.4h20.6M397.9 74.1v20.6M397.0 91.9h20.6M407.3 81.6v20.6M397.0 93.9h20.6M407.3 83.6v20.6M406.5 103.7h20.6M416.8 93.4v20.6M406.5 106.5h20.6M416.8 96.2v20.6M416.0 121.6h20.6M426.3 111.3v20.6M416.0 125.4h20.6M426.3 115.1v20.6M425.5 141.7h20.6M435.8 131.4v20.6M425.5 146.3h20.6M435.8 136.0v20.6M434.9 163.3h20.6M445.2 153.0v20.6M434.9 168.3h20.6M445.2 158.0v20.6M444.4 186.0h20.6M454.7 175.7v20.6M444.4 191.0h20.6M454.7 180.7v20.6M453.9 209.7h20.6M464.2 199.4v20.6M453.9 214.3h20.6M464.2 204.0v20.6M463.4 231.6h20.6M473.7 221.3v20.6M463.4 235.4h20.6M473.7 225.1v20.6M472.8 253.4h20.6M483.1 243.1v20.6M472.8 256.6h20.6M483.1 246.3v20.6M482.3 273.2h20.6M492.6 262.9v20.6M482.3 275.8h20.6M492.6 265.5v20.6M491.8 291.7h20.6M502.1 281.4v20.6M491.8 293.9h20.6M502.1 283.6v20.6M501.2 309.0h20.6M511.5 298.7v20.6M501.2 311.0h20.6M511.5 300.7v20.6M510.7 324.1h20.6M521.0 313.8v20.6M510.7 325.9h20.6M521.0 315.6v20.6M520.2 339.1h20.6M530.5 328.8v20.6M520.2 340.9h20.6M530.5 330.6v20.6M529.7 351.1h20.6M540.0 340.8v20.6M529.7 352.9h20.6M540.0 342.6v20.6M539.1 361.6h20.6M549.4 351.3v20.6M539.1 363.4h20.6M549.4 353.1v20.6M548.6 370.6h20.6M558.9 360.3v20.6M548.6 372.4h20.6M558.9 362.1v20.6M558.1 376.6h20.6M568.4 366.3v20.6M558.1 378.4h20.6M568.4 368.1v20.6M567.5 381.6h20.6M577.8 371.3v20.6M567.5 383.4h20.6M577.8 373.1v20.6M577.0 386.1h20.6M587.3 375.8v20.6M577.0 387.9h20.6M587.3 377.6v20.6M586.5 390.1h20.6M596.8 379.8v20.6M586.5 391.9h20.6M596.8 381.6v20.6M596.0 393.6h20.6M606.3 383.3v20.6M596.0 395.4h20.6M606.3 385.1v20.6M605.4 396.8h20.6M615.7 386.5v20.6M605.4 398.6h20.6M615.7 388.3v20.6M614.9 399.7h20.6M625.2 389.4v20.6M614.9 401.5h20.6M625.2 391.2v20.6M624.4 402.4h20.6M634.7 392.1v20.6M624.4 404.2h20.6M634.7 393.9v20.6M633.8 404.6h20.6M644.1 394.3v20.6M633.8 406.4h20.6M644.1 396.1v20.6M643.3 406.5h20.6M653.6 396.2v20.6M643.3 408.3h20.6M653.6 398.0v20.6M652.8 408.0h20.6M663.1 397.7v20.6M652.8 409.8h20.6M663.1 399.5v20.6M662.3 409.1h20.6M672.6 398.8v20.6M662.3 410.9h20.6M672.6 400.6v20.6M671.7 409.9h20.6M682.0 399.6v20.6M671.7 411.7h20.6M682.0 401.4v20.6M681.2 410.4h20.6M691.5 400.1v20.6M681.2 412.2h20.6M691.5 401.9v20.6" fill="none" stroke="#2a2a2a" stroke-width="2.9"/>
<path d="M115.4 29.1a7.85 7.85 0 1 0 15.7 0a7.85 7.85 0 1 0 -15.7 0M124.8 29.4a7.85 7.85 0 1 0 15.7 0a7.85 7.85 0 1 0 -15.7 0" fill="none" stroke="#ff0537" stroke-width="3.7"/>
<path d="M112.9 29.1h20.6M123.2 18.8v20.6M122.4 29.4h20.6M132.7 19.1v20.6" fill="none" stroke="#ff0537" stroke-width="2.9"/>
</g>
<path class="ax" d="M123.8 1.8H692.2V549.8M123.8 0.9V549.8M111 537.4H692.2"/>
<path class="ax" d="M220.0 537.4V549.8M312.7 537.4V549.8M409.0 537.4V549.8M502.7 537.4V549.8M597.7 537.4V549.8M111 29.3H123.8M111 87.6H123.8M111 141.8H123.8M111 197.3H123.8M111 254.8H123.8M111 310.1H123.8M111 369.3H123.8M111 422.4H123.8M111 481.6H123.8"/>
<defs><clipPath id="c0"><rect x="63.57" y="1.4" width="4.01" height="50"/><rect x="74.45" y="1.4" width="10.40" height="50"/><rect x="84.25" y="1.4" width="20.20" height="50"/></clipPath><clipPath id="c1"><rect x="55.85" y="508.1" width="19.32" height="50"/><rect x="74.57" y="508.1" width="9.96" height="50"/><rect x="92.25" y="508.1" width="3.87" height="50"/></clipPath><clipPath id="c2"><rect x="295.00" y="547.2" width="12.74" height="50"/><rect x="316.15" y="547.2" width="4.12" height="50"/></clipPath><clipPath id="c3"><rect x="498.01" y="547.2" width="4.17" height="50"/></clipPath></defs>
<text x="55.15" y="41.4" font-size="37" textLength="49.00" lengthAdjust="spacingAndGlyphs" clip-path="url(#c0)">1.0</text>
<text x="56.15" y="98.9" font-size="37" textLength="48.00" lengthAdjust="spacingAndGlyphs">0.9</text>
<text x="56.15" y="154.2" font-size="37" textLength="48.00" lengthAdjust="spacingAndGlyphs">0.8</text>
<text x="56.15" y="209.7" font-size="37" textLength="48.00" lengthAdjust="spacingAndGlyphs">0.7</text>
<text x="56.15" y="266.4" font-size="37" textLength="48.00" lengthAdjust="spacingAndGlyphs">0.6</text>
<text x="56.15" y="322.5" font-size="37" textLength="48.00" lengthAdjust="spacingAndGlyphs">0.5</text>
<text x="56.15" y="379.8" font-size="37" textLength="48.00" lengthAdjust="spacingAndGlyphs">0.4</text>
<text x="56.15" y="435.6" font-size="37" textLength="48.00" lengthAdjust="spacingAndGlyphs">0.3</text>
<text x="56.15" y="492.1" font-size="37" textLength="48.00" lengthAdjust="spacingAndGlyphs">0.2</text>
<text x="56.15" y="548.1" font-size="37" textLength="46.80" lengthAdjust="spacingAndGlyphs" clip-path="url(#c1)">0.1</text>
<text x="104.75" y="587.2" font-size="37" textLength="30.50" lengthAdjust="spacingAndGlyphs">-3</text>
<text x="201.80" y="587.2" font-size="37" textLength="33.00" lengthAdjust="spacingAndGlyphs">-2</text>
<text x="295.30" y="587.2" font-size="37" textLength="32.40" lengthAdjust="spacingAndGlyphs" clip-path="url(#c2)">-1</text>
<text x="398.00" y="587.2" font-size="37" textLength="20.00" lengthAdjust="spacingAndGlyphs">0</text>
<text x="489.16" y="587.2" font-size="37" textLength="20.57" lengthAdjust="spacingAndGlyphs" clip-path="url(#c3)">1</text>
<text x="585.90" y="587.2" font-size="37" textLength="20.80" lengthAdjust="spacingAndGlyphs">2</text>
<text x="681.80" y="587.2" font-size="37" textLength="18.00" lengthAdjust="spacingAndGlyphs">3</text>
<text transform="translate(35.3 340.8) rotate(-90)" font-size="44.7" textLength="150" lengthAdjust="spacingAndGlyphs">C/Cmax</text>
<text x="345.3" y="642.6" font-size="44" textLength="114.8" lengthAdjust="spacingAndGlyphs">Vg (V)</text>
<rect x="146.1" y="220.3" width="26.3" height="23.4" rx="8.5" fill="#ff0537"/>
<rect x="146.1" y="257.2" width="26.3" height="21.8" rx="8.5" fill="#2d6cf8"/>
<rect x="146.1" y="293.9" width="26.3" height="22.6" rx="8.5" fill="#2a2a2a"/>
<text x="147.07" y="352.65" font-size="34.2" style="stroke-width:1px">○</text>
<text x="146.86" y="392.1" font-size="43" style="stroke:none">+</text>
<text x="180.2" y="240.0" font-size="29" textLength="188" lengthAdjust="spacingAndGlyphs" xml:space="preserve">Thermal oxide</text>
<text x="179.5" y="275.9" font-size="29" textLength="141.5" lengthAdjust="spacingAndGlyphs" xml:space="preserve">ISSG oxide</text>
<text x="178.3" y="313.6" font-size="29" textLength="141.2" lengthAdjust="spacingAndGlyphs" xml:space="preserve">ALD oxide</text>
<text x="178.5" y="351.5" font-size="29" textLength="186" lengthAdjust="spacingAndGlyphs" xml:space="preserve">Horizontal  fin</text>
<text x="178.6" y="383.8" font-size="29" textLength="137.4" lengthAdjust="spacingAndGlyphs" xml:space="preserve">Vertical fin</text>
</svg></body></html>
